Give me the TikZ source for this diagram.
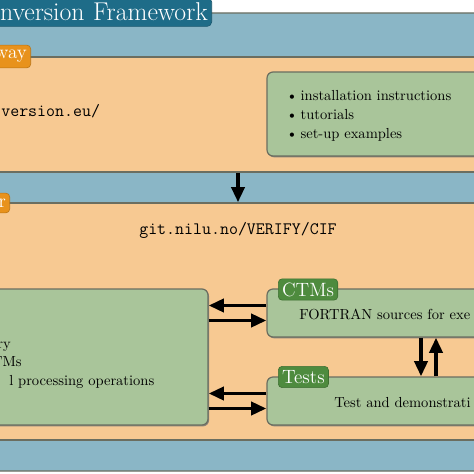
\documentclass[tikz,border=0pt]{standalone}
\usepackage{tikz}
\usetikzlibrary{arrows.meta,positioning,fit,calc,shadows}
\definecolor{cframe}{HTML}{8AB6C6}
\definecolor{cpanel}{HTML}{F7C992}
\definecolor{cbox}{HTML}{A9C59A}
\definecolor{ctitle}{HTML}{1E6C88}
\definecolor{ctagorange}{HTML}{E8921C}
\definecolor{ctaggreen}{HTML}{4E8B3E}
\definecolor{cborder}{HTML}{6B6E60}
\tikzset{
  frame/.style={draw=cborder, fill=cframe, line width=0.9pt, rounded corners=3pt, inner sep=0pt},
  panel/.style={draw=cborder, fill=cpanel, line width=0.9pt, inner sep=0pt},
  card/.style={draw=cborder, fill=cbox, line width=0.8pt, rounded corners=4pt, inner sep=0pt,
               drop shadow={shadow xshift=0.7pt, shadow yshift=-0.9pt, fill=black!55, opacity=0.8}},
  titletab/.style={draw=ctitle!80!black, fill=ctitle, text=white, rounded corners=3pt,
                   font=\fontsize{17}{19}\selectfont, inner xsep=2.5pt, minimum height=19pt},
  tag/.style={rounded corners=2.5pt, text=white, font=\fontsize{12.7}{14}\selectfont,
              inner xsep=2.5pt, inner ysep=0pt, minimum height=14pt},
  orangetag/.style={tag, draw=ctagorange!80!black, fill=ctagorange},
  greentag/.style={tag, draw=ctaggreen!80!black, fill=ctaggreen},
  txt/.style={font=\fontsize{9.6}{12.5}\selectfont, inner sep=0pt},
  url/.style={font=\fontsize{11.5}{13}\ttfamily, inner sep=0pt},
  arr/.style={-{Triangle[length=10pt,width=8.5pt]}, line width=2.6pt, black},
}
\begin{document}
\begin{tikzpicture}[x=0.66pt, y=-0.66pt]
  \path[use as bounding box, clip] (0,0) rectangle (474,474);

  % panels
  \node[frame, fit={(-40,13) (520,471)}] (frame) {};
  \node[panel, fit={(-40,57) (520,172)}] (web) {};
  \node[panel, fit={(-40,203) (520,440)}] (repo) {};

  % boxes
  \node[card, fit={(267,72) (520,156)}] (docs) {};
  \node[card, fit={(-40,289) (208,425)}] (core) {};
  \node[card, fit={(267,289) (520,337)}] (ctms) {};
  \node[card, fit={(267,377) (520,425)}] (tests) {};

  % tags
  \node[titletab, anchor=east, text width=220pt, align=right] (title) at (212,12) {nversion Framework};
  \node[orangetag, anchor=east, text width=30pt, align=right, minimum height=15pt] (webtag) at (31,56.5) {way};
  \node[orangetag, anchor=east, text width=20pt, align=right, minimum height=13pt] (repotag) at (10,203) {r};
  \node[greentag, anchor=west] (ctmstag) at (278,289.5) {CTMs};
  \node[greentag, anchor=west] (teststag) at (278,377) {Tests};

  % texts
  \node[url, anchor=mid west] (weburl) at (1,113) {version.eu/};
  \node[txt, anchor=west, align=left] (doclist) at (286,116)
    {\textbullet\hspace{2pt}installation instructions\\
     \textbullet\hspace{2pt}tutorials\\
     \textbullet\hspace{2pt}set-up examples};
  \node[url, anchor=mid] (repourl) at (238,231) {git.nilu.no/VERIFY/CIF};
  \node[txt, anchor=mid east] (core1) at (11,345) {ry};
  \node[txt, anchor=mid east] (core2) at (22,363) {TMs};
  \node[txt, anchor=mid west] (core3) at (9,382) {l processing operations};
  \node[txt, anchor=mid west] (ctmstext) at (299,316) {FORTRAN sources for exe};
  \node[txt, anchor=mid west] (teststext) at (334,404) {Test and demonstrati};

  % connectors
  \coordinate (down) at (238,0);
  \coordinate (vlink) at (428.5,0);
  \coordinate (ctmsin) at ($(ctms.west)+(0,-7.5)$);
  \coordinate (ctmsout) at ($(ctms.west)+(0,7.5)$);
  \coordinate (testsin) at ($(tests.west)+(0,-7.5)$);
  \coordinate (testsout) at ($(tests.west)+(0,7.5)$);
  \draw[arr] (down |- web.south) -- (down |- repo.north);
  \draw[arr] (ctmsin) -- (ctmsin -| core.east);
  \draw[arr] (ctmsout -| core.east) -- (ctmsout);
  \draw[arr] (testsin) -- (testsin -| core.east);
  \draw[arr] (testsout -| core.east) -- (testsout);
  \draw[arr] ($(vlink |- ctms.south)+(-7.5,0)$) -- ($(vlink |- tests.north)+(-7.5,0)$);
  \draw[arr] ($(vlink |- tests.north)+(7.5,0)$) -- ($(vlink |- ctms.south)+(7.5,0)$);
\end{tikzpicture}
\end{document}
